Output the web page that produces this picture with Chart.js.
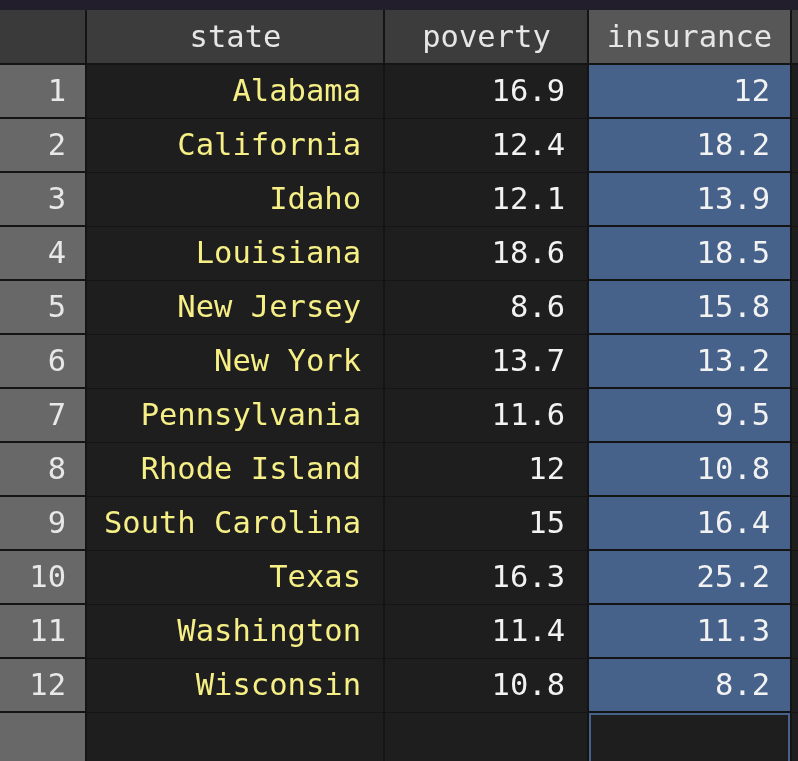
<!DOCTYPE html>
<html>
<head>
<meta charset="UTF-8">
<script src="https://cdn.jsdelivr.net/npm/chart.js"></script>
<style>
  html, body { margin: 0; padding: 0; background: #141414; }
  #wrap { width: 798px; height: 761px; }
</style>
</head>
<body>
<div id="wrap"><canvas id="tabla"></canvas></div>
<script>
const columns = ['state', 'poverty', 'insurance'];
const states = ['Alabama', 'California', 'Idaho', 'Louisiana', 'New Jersey', 'New York',
  'Pennsylvania', 'Rhode Island', 'South Carolina', 'Texas', 'Washington', 'Wisconsin'];
const poverty = [16.9, 12.4, 12.1, 18.6, 8.6, 13.7, 11.6, 12, 15, 16.3, 11.4, 10.8];
const insurance = [12, 18.2, 13.9, 18.5, 15.8, 13.2, 9.5, 10.8, 16.4, 25.2, 11.3, 8.2];

// column edges in pixels (x) and row geometry
const colEdges = [0, 86, 385, 588, 791, 798];
const headTop = 10, headBottom = 64, rowH = 54;

const font = '30.5px "DejaVu Sans Mono", monospace';

const tablePlugin = {
  id: 'tabla',
  beforeDraw(chart) {
    const c = chart.ctx, xs = chart.scales.x, ys = chart.scales.y;
    const X = v => xs.getPixelForValue(v), Y = v => ys.getPixelForValue(v);
    const rect = (x0, y0, x1, y1, col) => { c.fillStyle = col; c.fillRect(X(x0), Y(y0), X(x1) - X(x0), Y(y1) - Y(y0)); };
    c.save();
    rect(0, 0, 798, 761, '#141414');
    rect(0, 0, 798, headTop, '#221e2c');
    // header
    rect(0, headTop, 85, headBottom - 1, '#3a3a3a');
    rect(87, headTop, 383, headBottom - 1, '#3c3c3c');
    rect(385, headTop, 587, headBottom - 1, '#3c3c3c');
    rect(589, headTop, 790, headBottom - 1, '#575757');
    rect(792, headTop, 798, headBottom - 1, '#3a3a3a');
    c.font = font;
    c.textBaseline = 'middle';
    c.textAlign = 'center';
    c.fillStyle = '#e6e6e6';
    columns.forEach((name, i) => {
      c.fillText(name, (X(colEdges[i + 1]) + X(colEdges[i + 2])) / 2, Y((headTop + headBottom) / 2 + 2));
    });
    const rows = states.length + 1;
    for (let r = 0; r < rows; r++) {
      const top = headBottom + 1 + r * rowH, bot = top + rowH - 2;
      rect(0, top, 85, bot, '#686868');
      rect(87, top, 383, bot + 1, '#1e1e1e');
      rect(385, top, 587, bot + 1, '#1e1e1e');
      rect(792, top, 798, bot + 1, '#1e1e1e');
      if (r < states.length) {
        rect(589, top, 790, bot, '#46628a');
        const ym = Y(top + rowH / 2 + 1);
        c.textAlign = 'right';
        c.fillStyle = '#e8e8e8';
        c.fillText(String(r + 1), X(66), ym);
        c.fillStyle = '#f6ef86';
        c.fillText(states[r], X(361), ym);
        c.fillStyle = '#f2f2f2';
        c.fillText(String(poverty[r]), X(565), ym);
        c.fillText(String(insurance[r]), X(770), ym);
      } else {
        rect(589, top, 790, 761, '#46628a');
        rect(591, top + 2, 788, 761, '#1e1e1e');
      }
    }
    c.restore();
  }
};

new Chart(document.getElementById('tabla'), {
  type: 'scatter',
  data: { datasets: [{ data: [] }] },
  options: {
    responsive: true,
    maintainAspectRatio: false,
    animation: false,
    layout: { padding: 0 },
    plugins: { legend: { display: false }, tooltip: { enabled: false } },
    scales: {
      x: { type: 'linear', min: 0, max: 798, display: false },
      y: { type: 'linear', min: 0, max: 761, reverse: true, display: false }
    }
  },
  plugins: [tablePlugin]
});
</script>
</body>
</html>
